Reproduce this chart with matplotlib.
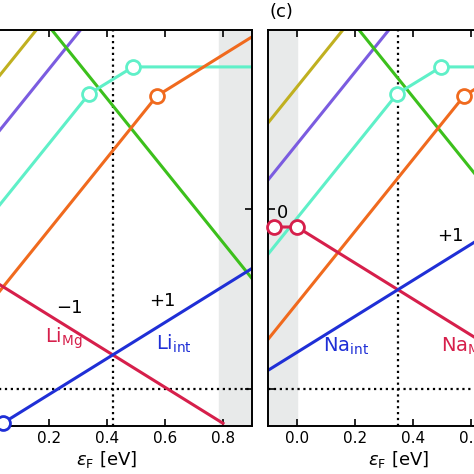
import matplotlib
matplotlib.use("Agg")
import matplotlib.pyplot as plt

# Left panel (Li)
L_li_int_x = [0.04, 0.9];              L_li_int_y = [-0.19, 0.67]
L_li_mg_x = [-0.1, 0.8];               L_li_mg_y = [0.71, -0.19]
L_orange_x = [-0.1, 0.572, 0.9];       L_orange_y = [0.284, 1.628, 1.956]
L_cyan_x = [-0.1, 0.338, 0.49, 0.9];   L_cyan_y = [0.763, 1.639, 1.789, 1.789]
L_purple_x = [-0.1, 0.4];              L_purple_y = [1.177, 2.177]
L_gold_x = [-0.1, 0.2];                L_gold_y = [1.482, 2.082]
L_green_x = [0.15, 0.92];              L_green_y = [2.114, 0.574]
L_circ_blue = ([0.04], [-0.19])
L_circ_orange = ([0.572], [1.628])
L_circ_cyan = ([0.338, 0.49], [1.639, 1.789])
L_fermi = 0.42
L_band = (0.785, 0.9)

# Right panel (Na)
R_na_int_x = [-0.1, 0.8];              R_na_int_y = [0.104, 1.004]
R_na_mg_x = [-0.1, 0.0, 0.8];          R_na_mg_y = [0.9, 0.9, 0.1]
R_orange_x = [-0.1, 0.576, 0.8];       R_orange_y = [0.276, 1.628, 1.852]
R_cyan_x = [-0.1, 0.345, 0.497, 0.8];  R_cyan_y = [0.749, 1.639, 1.789, 1.789]
R_purple_x = [-0.1, 0.5];              R_purple_y = [1.161, 2.361]
R_gold_x = [-0.1, 0.3];                R_gold_y = [1.478, 2.278]
R_green_x = [0.15, 0.8];               R_green_y = [2.122, 0.822]
R_circ_red = ([-0.079, 0.0], [0.9, 0.9])
R_circ_orange = ([0.576], [1.628])
R_circ_cyan = ([0.345, 0.497], [1.639, 1.789])
R_fermi = 0.348
R_band = (-0.1, 0.0)

C = dict(blue='#1f2fd6', red='#d61f4b', orange='#f06a1e', cyan='#5ff0c8',
         purple='#7b5ce0', gold='#c0b020', green='#3cc01c')

W = 474
fig = plt.figure(figsize=(4.74, 4.74), dpi=100)
def px(l, t, w, h):
    return [l / W, 1 - (t + h) / W, w / W, h / W]
axL = fig.add_axes(px(-38, 30, 290, 396))
axR = fig.add_axes(px(268, 30, 261, 396))

lw = 2.2
def circ(ax, pts, c):
    ax.plot(pts[0], pts[1], 'o', ms=10, mfc='white', mec=c, mew=2, zorder=5, clip_on=False)

for ax in (axL, axR):
    ax.set_yticks([0, 1, 2]); ax.set_yticklabels([])
    ax.set_xticks([0.0, 0.2, 0.4, 0.6, 0.8])
    ax.tick_params(direction='in', top=True, right=True, length=5, width=1.2, labelsize=11)
    ax.axhline(0, color='black', ls=':', lw=1.6)
    for s in ax.spines.values():
        s.set_linewidth(1.4)
    ax.set_xlabel(r'$\varepsilon_\mathrm{F}$ [eV]', fontsize=13, labelpad=2)

axL.set_xticklabels(['0', '0.2', '0.4', '0.6', '0.8'])
axR.set_xticklabels(['0.0', '0.2', '0.4', '0.6', '0.8'])

axL.axvspan(*L_band, color='#e8eaea', zorder=0)
axL.axvline(L_fermi, color='black', ls=':', lw=1.6)
axL.plot(L_gold_x, L_gold_y, color=C['gold'], lw=lw)
axL.plot(L_purple_x, L_purple_y, color=C['purple'], lw=lw)
axL.plot(L_green_x, L_green_y, color=C['green'], lw=lw)
axL.plot(L_cyan_x, L_cyan_y, color=C['cyan'], lw=lw)
axL.plot(L_orange_x, L_orange_y, color=C['orange'], lw=lw)
axL.plot(L_li_mg_x, L_li_mg_y, color=C['red'], lw=lw)
axL.plot(L_li_int_x, L_li_int_y, color=C['blue'], lw=lw)
circ(axL, L_circ_blue, C['blue']); circ(axL, L_circ_orange, C['orange']); circ(axL, L_circ_cyan, C['cyan'])
axL.text(0.27, 0.45, '−1', fontsize=13, ha='center', va='center')
axL.text(0.59, 0.49, '+1', fontsize=13, ha='center', va='center')
axL.text(0.25, 0.28, r'Li$_\mathrm{Mg}$', color=C['red'], fontsize=14, ha='center', va='center')
axL.text(0.63, 0.25, r'Li$_\mathrm{int}$', color=C['blue'], fontsize=14, ha='center', va='center')

axR.axvspan(*R_band, color='#e8eaea', zorder=0)
axR.axvline(R_fermi, color='black', ls=':', lw=1.6)
axR.plot(R_gold_x, R_gold_y, color=C['gold'], lw=lw)
axR.plot(R_purple_x, R_purple_y, color=C['purple'], lw=lw)
axR.plot(R_green_x, R_green_y, color=C['green'], lw=lw)
axR.plot(R_cyan_x, R_cyan_y, color=C['cyan'], lw=lw)
axR.plot(R_orange_x, R_orange_y, color=C['orange'], lw=lw)
axR.plot(R_na_mg_x, R_na_mg_y, color=C['red'], lw=lw)
axR.plot(R_na_int_x, R_na_int_y, color=C['blue'], lw=lw)
circ(axR, R_circ_red, C['red']); circ(axR, R_circ_orange, C['orange']); circ(axR, R_circ_cyan, C['cyan'])
axR.text(-0.05, 0.98, '0', fontsize=13, ha='center', va='center')
axR.text(0.53, 0.85, '+1', fontsize=13, ha='center', va='center')
axR.text(0.66, 0.50, '−1', fontsize=13, ha='center', va='center')
axR.text(0.17, 0.24, r'Na$_\mathrm{int}$', color=C['blue'], fontsize=14, ha='center', va='center')
axR.text(0.58, 0.23, r'Na$_\mathrm{Mg}$', color=C['red'], fontsize=14, ha='center', va='center')

axL.set_xlim(-0.1, 0.9); axR.set_xlim(-0.1, 0.8)
for ax in (axL, axR):
    ax.set_ylim(-0.205, 1.994)

fig.text(281 / W, 1 - 12 / W, '(c)', fontsize=13, ha='center', va='center')
fig.savefig('out.png', dpi=100)
